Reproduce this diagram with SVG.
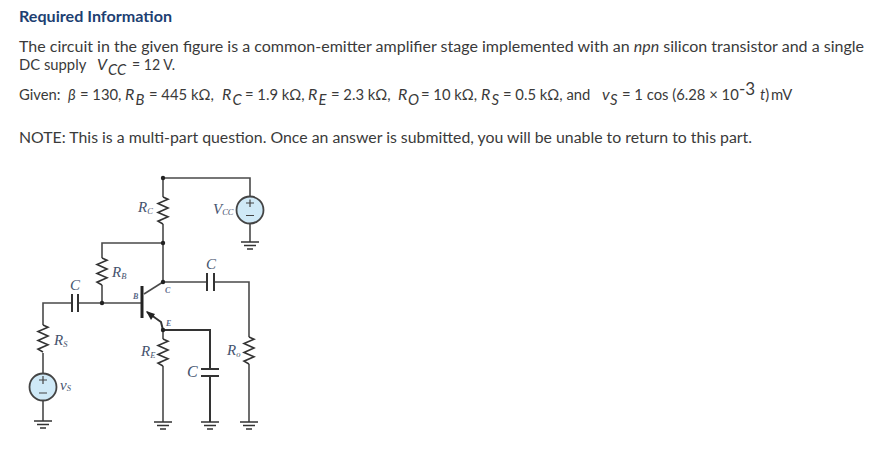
<svg xmlns="http://www.w3.org/2000/svg" width="882" height="449" viewBox="0 0 882 449">
<style>
.t{font-family:"Lato","Open Sans",sans-serif;font-size:14.8px;fill:#3a3a3a}
.h{font-family:"Lato","Open Sans",sans-serif;font-size:14.6px;font-weight:700;fill:#1d3f72}
.i{font-style:italic}
.b{font-size:16px}
.u{font-size:14.800px}
.l{font-family:"Liberation Serif",serif;font-style:italic;fill:#45536e;font-size:15px}
.s{font-size:8.500px}
.m{font-family:"Liberation Serif",serif;font-style:italic;font-weight:700;fill:#5a6a88;font-size:8px}
.w{fill:none;stroke:#4a4a4a;stroke-width:1.6}
.d{fill:none;stroke:#333;stroke-width:2}
.r{fill:none;stroke:#333;stroke-width:1.6;stroke-linejoin:miter}
.n{fill:#222}
.src{fill:#cfe9f7;stroke:#444;stroke-width:1.8}
.sign{fill:none;stroke:#444;stroke-width:1.2}
.g{fill:none;stroke:#333;stroke-width:1.6}
</style>
<defs>
<g id="gnd"><path class="g" d="M-9 0H9M-6 3.500H6M-3 7H3"/></g>
<path id="res" class="r" d="M0 0L5 2.200L-5 6.600L5 11L-5 15.400L5 19.800L-5 24.200L0 27"/>
</defs>
<g id="text">
<text class="h" x="19" y="22" textLength="153" lengthAdjust="spacingAndGlyphs">Required Information</text>
<text class="t" x="19" y="52" textLength="845" lengthAdjust="spacingAndGlyphs">The circuit in the given figure is a common-emitter amplifier stage implemented with an <tspan class="i">npn</tspan> silicon transistor and a single</text>
<text class="t" x="19" y="70">DC supply <tspan class="i b" x="97">V<tspan class="u" dy="5" x="108">CC</tspan></tspan></text>
<text class="t" x="132" y="70" textLength="43" lengthAdjust="spacingAndGlyphs">= 12 V.</text>
<text class="t" y="100"><tspan x="19">Given: </tspan><tspan class="i" x="68">β</tspan><tspan x="80">= 130,</tspan><tspan class="i b" x="125">R<tspan class="u" dy="5" x="135.500">B</tspan></tspan><tspan dy="-5" x="149">= 445 kΩ,</tspan><tspan class="i b" x="222">R<tspan class="u" dy="5" x="232.500">C</tspan></tspan><tspan dy="-5" x="245">= 1.9 kΩ,</tspan><tspan class="i b" x="308">R<tspan class="u" dy="5" x="318.500">E</tspan></tspan><tspan dy="-5" x="331">= 2.3 kΩ,</tspan><tspan class="i b" x="398">R<tspan class="u" dy="5" x="408">O</tspan></tspan><tspan dy="-5" x="421">= 10 kΩ,</tspan><tspan class="i b" x="481">R<tspan class="u" dy="5" x="491.500">S</tspan></tspan><tspan dy="-5" x="503">= 0.5 kΩ, and</tspan><tspan class="i b" x="602">v<tspan class="u" dy="5" x="610">S</tspan></tspan><tspan dy="-5" x="622">= 1 cos (6.28 × 10</tspan><tspan dy="-5" x="739" style="font-size:17px">-3</tspan><tspan dy="5" x="760"><tspan class="i">t</tspan>)</tspan><tspan x="771">mV</tspan></text>
<text class="t" x="19" y="143" textLength="733" lengthAdjust="spacingAndGlyphs">NOTE: This is a multi-part question. Once an answer is submitted, you will be unable to return to this part.</text>
</g>
<g id="connectors">
<path class="w" d="M163 178H250V196M250 224V242"/>
<path class="w" d="M163 178V197M163 224V282M163 243H102V258M102 285V302"/>
<path class="w" d="M43 325V303H72M78 303H142M43 353V373M43 401V421"/>
<path class="w" d="M163 282H207M214 282H249V337M249 364V422"/>
<path class="w" d="M163 282L144 294"/>
<path class="d" d="M147 312L161 322L163 330"/>
<path class="w" d="M163 330V339M163 366V422"/>
<path class="d" d="M163 330H210V369M210 376V422"/>
<path class="n" d="M146 311L155 314L151 320Z"/>
</g>
<g id="Rc"><use href="#res" transform="translate(163 197)"/><text class="l" x="138" y="212">R<tspan class="s" dy="2">C</tspan></text></g>
<g id="Rb"><use href="#res" transform="translate(102 258)"/><text class="l" x="112" y="277">R<tspan class="s" dy="2">B</tspan></text></g>
<g id="Rs"><use href="#res" transform="translate(43 325)"/><text class="l" x="54" y="345">R<tspan class="s" dy="2">S</tspan></text></g>
<g id="Re"><use href="#res" transform="translate(163 339)"/><text class="l" x="141" y="356">R<tspan class="s" dy="2">E</tspan></text></g>
<g id="Ro"><use href="#res" transform="translate(249 337)"/><text class="l" x="227" y="355">R<tspan class="s" dy="2">o</tspan></text></g>
<g id="Vcc"><circle class="src" cx="250" cy="210" r="13.500"/><path class="sign" d="M250 199.500V207M246 203H254M246 215.500H254"/><text class="l" x="213" y="214">V<tspan class="s" dy="1">CC</tspan></text><use href="#gnd" transform="translate(250 242)"/></g>
<g id="Vs"><circle class="src" cx="43" cy="387" r="13.500"/><path class="sign" d="M43 376V384M39 380H47M39 393H47"/><text class="l" x="60" y="390">v<tspan class="s" dy="1">S</tspan></text><use href="#gnd" transform="translate(43 421)"/></g>
<g id="C1"><path class="d" d="M72 294V312M78 294V312"/><text class="l" x="70" y="290">C</text></g>
<g id="C2"><path class="d" d="M207 273V291M214 273V291"/><text class="l" x="206" y="269">C</text></g>
<g id="C3"><path class="d" d="M201 369H219M201 376H219"/><text class="l" x="187" y="377" style="font-size:16px">C</text></g>
<g id="Q"><path stroke="#222" stroke-width="3" d="M142 286V318" fill="none"/><text class="m" x="133" y="299">B</text><text class="m" x="165" y="293">C</text><text class="m" x="166" y="326">E</text></g>
<g id="nodes"><circle class="n" cx="163" cy="178" r="2.200"/><circle class="n" cx="163" cy="243" r="2.200"/><circle class="n" cx="163" cy="282" r="2.200"/><circle class="n" cx="102" cy="303" r="2.200"/><circle class="n" cx="163" cy="330" r="2.200"/></g>
<g id="grounds"><use href="#gnd" transform="translate(163 422)"/><use href="#gnd" transform="translate(210 422)"/><use href="#gnd" transform="translate(249 422)"/></g>
</svg>
